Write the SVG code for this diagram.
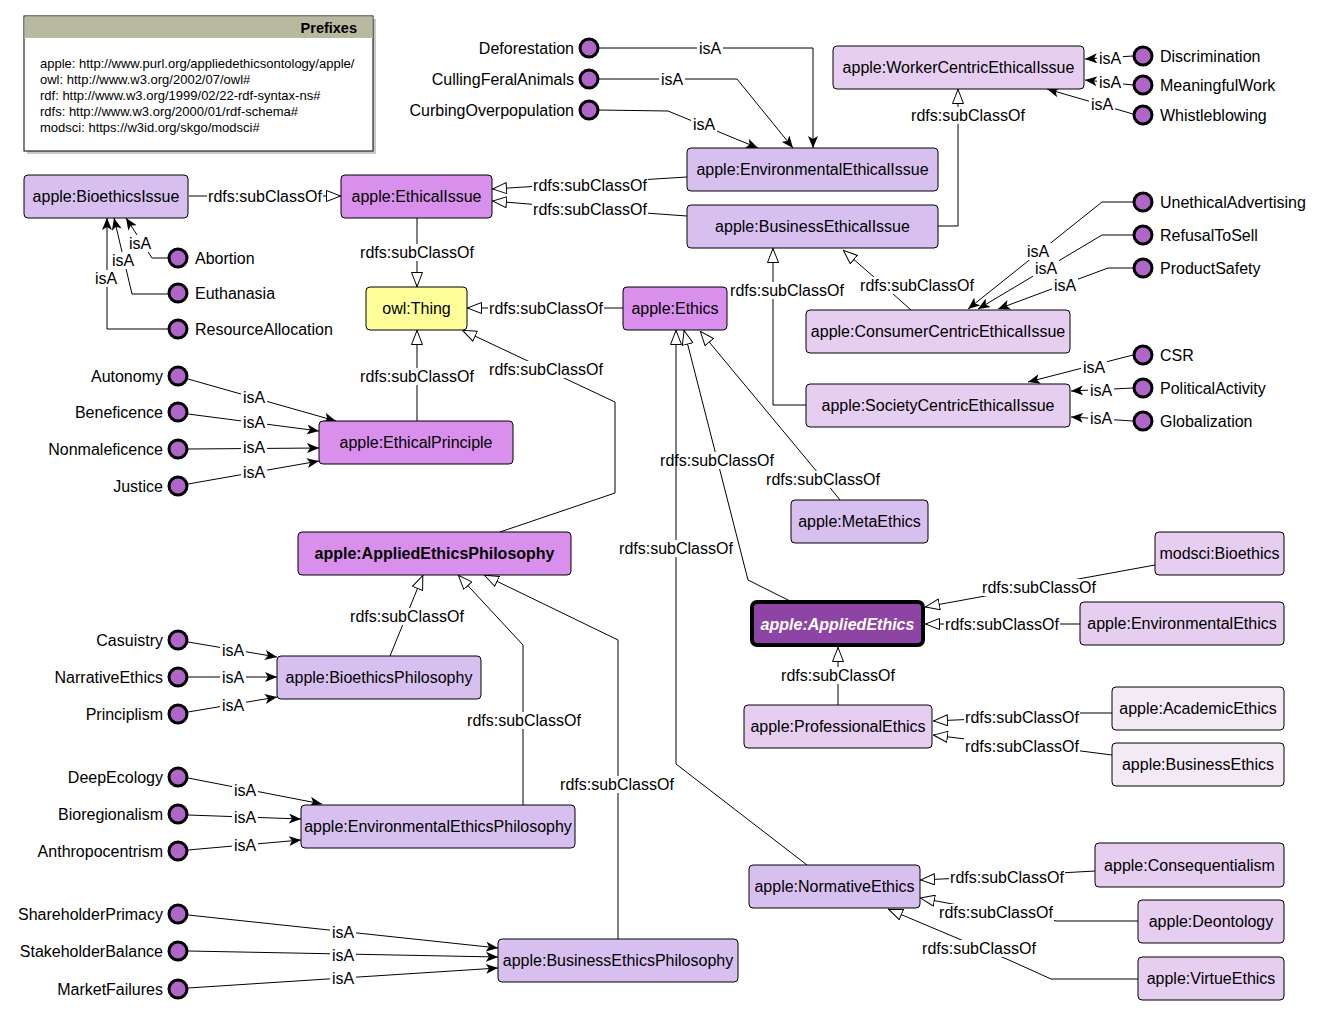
<svg xmlns="http://www.w3.org/2000/svg" xmlns:xlink="http://www.w3.org/1999/xlink" width="1323" height="1016" viewBox="0 0 1323 1016">
<style>
text{font-family:"Liberation Sans",Arial,sans-serif;fill:#000}
.e{fill:none;stroke:#000;stroke-width:1}
.s{marker-end:url(#tri)}
.i{marker-end:url(#arr)}
.lbl{font-size:16px;text-anchor:middle}
.n rect{stroke:#000;stroke-width:1}
.n text{font-size:16px;text-anchor:middle}
.lav{fill:#d7c0ef}
.pink{fill:#d98fec}
.light{fill:#e6cef0}
.vlight{fill:#f3eaf6}
.yel{fill:#ffff99}
.ind circle{fill:#b065c8;stroke:#000;stroke-width:3}
.ind text{font-size:16px}
.l{text-anchor:end}
.pre{font-size:13px}
</style>
<defs>
<marker id="tri" viewBox="0 0 15 12" refX="15" refY="6" markerWidth="15" markerHeight="12" markerUnits="userSpaceOnUse" orient="auto">
<path d="M0.5,0.5 L14.5,6 L0.5,11.5 Z" fill="#fff" stroke="#000" stroke-width="1"/>
</marker>
<marker id="arr" viewBox="0 0 12 10" refX="12" refY="5" markerWidth="12" markerHeight="10" markerUnits="userSpaceOnUse" orient="auto">
<path d="M0,0 L12,5 L0,10 L3,5 Z" fill="#000"/>
</marker>
<rect id="bs" x="-58" y="-14" width="116" height="17" fill="#fff"/>
<rect id="bi" x="-13" y="-14" width="26" height="17" fill="#fff"/>
</defs>
<rect width="1323" height="1016" fill="#fff"/>

<g id="prefixes">
<rect x="27" y="19" width="349" height="135" fill="#c8c8c8"/>
<rect x="24" y="16" width="349" height="135" fill="#fff" stroke="#000"/>
<rect x="24.5" y="16.5" width="348" height="21" fill="#b9b9a0"/>
<line x1="24" y1="37.5" x2="373" y2="37.5" stroke="#b9b9a0"/>
<text x="357" y="33" font-size="14.5" font-weight="bold" text-anchor="end">Prefixes</text>
<text class="pre" x="40" y="68">apple: http://www.purl.org/appliedethicsontology/apple/</text>
<text class="pre" x="40" y="84">owl: http://www.w3.org/2002/07/owl#</text>
<text class="pre" x="40" y="100">rdf: http://www.w3.org/1999/02/22-rdf-syntax-ns#</text>
<text class="pre" x="40" y="116">rdfs: http://www.w3.org/2000/01/rdf-schema#</text>
<text class="pre" x="40" y="132">modsci: https://w3id.org/skgo/modsci#</text>
</g>

<g id="connectors">
<!-- subClassOf -->
<path class="e s" d="M189,196 L341,196"/><use xlink:href="#bs" x="265" y="202"/><text class="lbl" x="265" y="202">rdfs:subClassOf</text>
<path class="e s" d="M687,177 L590,183 L492,189"/><use xlink:href="#bs" x="590" y="191"/><text class="lbl" x="590" y="191">rdfs:subClassOf</text>
<path class="e s" d="M687,216 L590,209 L492,201"/><use xlink:href="#bs" x="590" y="215"/><text class="lbl" x="590" y="215">rdfs:subClassOf</text>
<path class="e s" d="M417,218 L417,287"/><use xlink:href="#bs" x="417" y="258"/><text class="lbl" x="417" y="258">rdfs:subClassOf</text>
<path class="e s" d="M623,308 L467,308"/><use xlink:href="#bs" x="546" y="314"/><text class="lbl" x="546" y="314">rdfs:subClassOf</text>
<path class="e s" d="M417,421 L417,330"/><use xlink:href="#bs" x="417" y="382"/><text class="lbl" x="417" y="382">rdfs:subClassOf</text>
<path class="e s" d="M500,532 L615,493 L615,402 L462,330"/><use xlink:href="#bs" x="546" y="375"/><text class="lbl" x="546" y="375">rdfs:subClassOf</text>
<path class="e s" d="M938,226 L958,226 L958,89"/><use xlink:href="#bs" x="968" y="121"/><text class="lbl" x="968" y="121">rdfs:subClassOf</text>
<path class="e s" d="M911,310 L883,285 L843,250"/><use xlink:href="#bs" x="917" y="291"/><text class="lbl" x="917" y="291">rdfs:subClassOf</text>
<path class="e s" d="M806,405 L773,405 L773,248"/><use xlink:href="#bs" x="787" y="296"/><text class="lbl" x="787" y="296">rdfs:subClassOf</text>
<path class="e s" d="M840,500 L823,479 L700,331"/><use xlink:href="#bs" x="823" y="485"/><text class="lbl" x="823" y="485">rdfs:subClassOf</text>
<path class="e s" d="M790,601 L748,580 L684,330"/><use xlink:href="#bs" x="717" y="466"/><text class="lbl" x="717" y="466">rdfs:subClassOf</text>
<path class="e s" d="M807,865 L676,764 L676,330"/><use xlink:href="#bs" x="676" y="554"/><text class="lbl" x="676" y="554">rdfs:subClassOf</text>
<path class="e s" d="M390,656 L423,575"/><use xlink:href="#bs" x="407" y="622"/><text class="lbl" x="407" y="622">rdfs:subClassOf</text>
<path class="e s" d="M523,805 L523,645 L458,575"/><use xlink:href="#bs" x="524" y="726"/><text class="lbl" x="524" y="726">rdfs:subClassOf</text>
<path class="e s" d="M618,939 L618,640 L484,575"/><use xlink:href="#bs" x="617" y="790"/><text class="lbl" x="617" y="790">rdfs:subClassOf</text>
<path class="e s" d="M1155,565 L925,607"/><use xlink:href="#bs" x="1039" y="593"/><text class="lbl" x="1039" y="593">rdfs:subClassOf</text>
<path class="e s" d="M1080,624 L925,624"/><use xlink:href="#bs" x="1002" y="630"/><text class="lbl" x="1002" y="630">rdfs:subClassOf</text>
<path class="e s" d="M838,705 L838,647"/><use xlink:href="#bs" x="838" y="681"/><text class="lbl" x="838" y="681">rdfs:subClassOf</text>
<path class="e s" d="M1112,713 L1079,713 L1022,717 L933,721"/><use xlink:href="#bs" x="1022" y="723"/><text class="lbl" x="1022" y="723">rdfs:subClassOf</text>
<path class="e s" d="M1112,755 L1081,751 L1022,746 L933,735"/><use xlink:href="#bs" x="1022" y="752"/><text class="lbl" x="1022" y="752">rdfs:subClassOf</text>
<path class="e s" d="M1095,871 L1007,876 L920,880"/><use xlink:href="#bs" x="1007" y="883"/><text class="lbl" x="1007" y="883">rdfs:subClassOf</text>
<path class="e s" d="M1138,921 L1057,921 L996,912 L920,898"/><use xlink:href="#bs" x="996" y="918"/><text class="lbl" x="996" y="918">rdfs:subClassOf</text>
<path class="e s" d="M1138,979 L1051,979 L1009,960 L952,936 L888,909"/><use xlink:href="#bs" x="979" y="954"/><text class="lbl" x="979" y="954">rdfs:subClassOf</text>
<!-- isA -->
<path class="e i" d="M599,48 L813,48 L813,148"/><use xlink:href="#bi" x="710" y="54"/><text class="lbl" x="710" y="54">isA</text>
<path class="e i" d="M599,79 L737,79 L793,148"/><use xlink:href="#bi" x="672" y="85"/><text class="lbl" x="672" y="85">isA</text>
<path class="e i" d="M599,110 L668,111 L758,148"/><use xlink:href="#bi" x="704" y="130"/><text class="lbl" x="704" y="130">isA</text>
<path class="e i" d="M1133,56 L1085,59"/><use xlink:href="#bi" x="1110" y="64"/><text class="lbl" x="1110" y="64">isA</text>
<path class="e i" d="M1133,85 L1085,80"/><use xlink:href="#bi" x="1110" y="88"/><text class="lbl" x="1110" y="88">isA</text>
<path class="e i" d="M1133,114 L1047,89"/><use xlink:href="#bi" x="1102" y="110"/><text class="lbl" x="1102" y="110">isA</text>
<path class="e i" d="M1133,202 L1102,202 L968,309"/><use xlink:href="#bi" x="1038" y="257"/><text class="lbl" x="1038" y="257">isA</text>
<path class="e i" d="M1133,235 L1102,235 L978,309"/><use xlink:href="#bi" x="1046" y="274"/><text class="lbl" x="1046" y="274">isA</text>
<path class="e i" d="M1133,268 L1108,268 L998,309"/><use xlink:href="#bi" x="1065" y="291"/><text class="lbl" x="1065" y="291">isA</text>
<path class="e i" d="M1133,355 L1028,382"/><use xlink:href="#bi" x="1094" y="373"/><text class="lbl" x="1094" y="373">isA</text>
<path class="e i" d="M1133,388 L1071,391"/><use xlink:href="#bi" x="1101" y="396"/><text class="lbl" x="1101" y="396">isA</text>
<path class="e i" d="M1133,421 L1071,417"/><use xlink:href="#bi" x="1101" y="424"/><text class="lbl" x="1101" y="424">isA</text>
<path class="e i" d="M168,258 L152,258 L126,218"/><use xlink:href="#bi" x="140" y="249"/><text class="lbl" x="140" y="249">isA</text>
<path class="e i" d="M168,294 L132,294 L114,218"/><use xlink:href="#bi" x="123" y="266"/><text class="lbl" x="123" y="266">isA</text>
<path class="e i" d="M168,329 L107,329 L107,218"/><use xlink:href="#bi" x="106" y="284"/><text class="lbl" x="106" y="284">isA</text>
<path class="e i" d="M188,379 L336,421"/><use xlink:href="#bi" x="254" y="403"/><text class="lbl" x="254" y="403">isA</text>
<path class="e i" d="M188,414 L319,431"/><use xlink:href="#bi" x="254" y="428"/><text class="lbl" x="254" y="428">isA</text>
<path class="e i" d="M188,449 L319,448"/><use xlink:href="#bi" x="254" y="453"/><text class="lbl" x="254" y="453">isA</text>
<path class="e i" d="M188,484 L319,461"/><use xlink:href="#bi" x="254" y="478"/><text class="lbl" x="254" y="478">isA</text>
<path class="e i" d="M188,642 L277,657"/><use xlink:href="#bi" x="233" y="656"/><text class="lbl" x="233" y="656">isA</text>
<path class="e i" d="M188,677 L277,677"/><use xlink:href="#bi" x="233" y="683"/><text class="lbl" x="233" y="683">isA</text>
<path class="e i" d="M188,712 L277,697"/><use xlink:href="#bi" x="233" y="711"/><text class="lbl" x="233" y="711">isA</text>
<path class="e i" d="M188,778 L322,804"/><use xlink:href="#bi" x="245" y="796"/><text class="lbl" x="245" y="796">isA</text>
<path class="e i" d="M188,815 L301,819"/><use xlink:href="#bi" x="245" y="823"/><text class="lbl" x="245" y="823">isA</text>
<path class="e i" d="M188,850 L301,840"/><use xlink:href="#bi" x="245" y="851"/><text class="lbl" x="245" y="851">isA</text>
<path class="e i" d="M188,915 L498,948"/><use xlink:href="#bi" x="343" y="938"/><text class="lbl" x="343" y="938">isA</text>
<path class="e i" d="M188,951 L498,957"/><use xlink:href="#bi" x="343" y="961"/><text class="lbl" x="343" y="961">isA</text>
<path class="e i" d="M188,988 L498,968"/><use xlink:href="#bi" x="343" y="984"/><text class="lbl" x="343" y="984">isA</text>
</g>

<g id="classes">
<g id="n-bioethicsissue" class="n"><rect class="lav" x="24" y="175" width="164" height="43" rx="4"/><text x="106" y="202">apple:BioethicsIssue</text></g>
<g id="n-ethicalissue" class="n"><rect class="pink" x="341" y="175" width="151" height="43" rx="4"/><text x="416.5" y="202">apple:EthicalIssue</text></g>
<g id="n-thing" class="n"><rect class="yel" x="366" y="287" width="101" height="43" rx="4"/><text x="416.5" y="314">owl:Thing</text></g>
<g id="n-ethics" class="n"><rect class="pink" x="623" y="287" width="104" height="43" rx="4"/><text x="675" y="314">apple:Ethics</text></g>
<g id="n-envethicalissue" class="n"><rect class="lav" x="687" y="148" width="251" height="43" rx="4"/><text x="812.5" y="175">apple:EnvironmentalEthicalIssue</text></g>
<g id="n-busethicalissue" class="n"><rect class="lav" x="687" y="205" width="251" height="43" rx="4"/><text x="812.5" y="232">apple:BusinessEthicalIssue</text></g>
<g id="n-worker" class="n"><rect class="light" x="833" y="46" width="251" height="43" rx="4"/><text x="958.5" y="73">apple:WorkerCentricEthicalIssue</text></g>
<g id="n-consumer" class="n"><rect class="light" x="806" y="310" width="264" height="43" rx="4"/><text x="938" y="337">apple:ConsumerCentricEthicalIssue</text></g>
<g id="n-society" class="n"><rect class="light" x="806" y="384" width="264" height="43" rx="4"/><text x="938" y="411">apple:SocietyCentricEthicalIssue</text></g>
<g id="n-ethicalprinciple" class="n"><rect class="pink" x="319" y="421" width="194" height="43" rx="4"/><text x="416" y="448">apple:EthicalPrinciple</text></g>
<g id="n-metaethics" class="n"><rect class="lav" x="791" y="500" width="137" height="43" rx="4"/><text x="859.5" y="527">apple:MetaEthics</text></g>
<g id="n-aephil" class="n"><rect class="pink" x="298" y="532" width="273" height="43" rx="4"/><text x="434.5" y="559" font-weight="bold">apple:AppliedEthicsPhilosophy</text></g>
<g id="n-biophil" class="n"><rect class="lav" x="277" y="656" width="204" height="43" rx="4"/><text x="379" y="683">apple:BioethicsPhilosophy</text></g>
<g id="n-envphil" class="n"><rect class="lav" x="301" y="805" width="274" height="43" rx="4"/><text x="438" y="832">apple:EnvironmentalEthicsPhilosophy</text></g>
<g id="n-busphil" class="n"><rect class="lav" x="498" y="939" width="240" height="43" rx="4"/><text x="618" y="966">apple:BusinessEthicsPhilosophy</text></g>
<g id="n-appliedethics" class="n"><rect x="752" y="602" width="171" height="43" rx="5" fill="#8e44a4" style="stroke-width:4"/><text x="837.5" y="629.5" font-weight="bold" font-style="italic" style="fill:#fff">apple:AppliedEthics</text></g>
<g id="n-modsci" class="n"><rect class="light" x="1155" y="532" width="129" height="43" rx="4"/><text x="1219.5" y="559">modsci:Bioethics</text></g>
<g id="n-envethics" class="n"><rect class="light" x="1080" y="602" width="204" height="43" rx="4"/><text x="1182" y="629">apple:EnvironmentalEthics</text></g>
<g id="n-profethics" class="n"><rect class="light" x="744" y="705" width="188" height="43" rx="4"/><text x="838" y="732">apple:ProfessionalEthics</text></g>
<g id="n-academic" class="n"><rect class="vlight" x="1112" y="687" width="172" height="43" rx="4"/><text x="1198" y="714">apple:AcademicEthics</text></g>
<g id="n-busethics" class="n"><rect class="vlight" x="1112" y="743" width="172" height="43" rx="4"/><text x="1198" y="770">apple:BusinessEthics</text></g>
<g id="n-normative" class="n"><rect class="lav" x="749" y="865" width="171" height="43" rx="4"/><text x="834.5" y="892">apple:NormativeEthics</text></g>
<g id="n-conseq" class="n"><rect class="light" x="1095" y="843" width="189" height="44" rx="4"/><text x="1189.5" y="871">apple:Consequentialism</text></g>
<g id="n-deont" class="n"><rect class="light" x="1138" y="900" width="146" height="43" rx="4"/><text x="1211" y="927">apple:Deontology</text></g>
<g id="n-virtue" class="n"><rect class="light" x="1138" y="957" width="146" height="43" rx="4"/><text x="1211" y="984">apple:VirtueEthics</text></g>
</g>

<g id="individuals">
<g id="i-deforestation" class="ind"><circle cx="589" cy="48" r="9"/><text class="l" x="574" y="54">Deforestation</text></g>
<g id="i-culling" class="ind"><circle cx="589" cy="79" r="9"/><text class="l" x="574" y="85">CullingFeralAnimals</text></g>
<g id="i-curbing" class="ind"><circle cx="589" cy="110" r="9"/><text class="l" x="574" y="116">CurbingOverpopulation</text></g>
<g id="i-discrimination" class="ind"><circle cx="1143" cy="56" r="9"/><text x="1160" y="62">Discrimination</text></g>
<g id="i-meaningful" class="ind"><circle cx="1143" cy="85" r="9"/><text x="1160" y="91">MeaningfulWork</text></g>
<g id="i-whistle" class="ind"><circle cx="1143" cy="115" r="9"/><text x="1160" y="121">Whistleblowing</text></g>
<g id="i-unethical" class="ind"><circle cx="1143" cy="202" r="9"/><text x="1160" y="208">UnethicalAdvertising</text></g>
<g id="i-refusal" class="ind"><circle cx="1143" cy="235" r="9"/><text x="1160" y="241">RefusalToSell</text></g>
<g id="i-product" class="ind"><circle cx="1143" cy="268" r="9"/><text x="1160" y="274">ProductSafety</text></g>
<g id="i-csr" class="ind"><circle cx="1143" cy="355" r="9"/><text x="1160" y="361">CSR</text></g>
<g id="i-political" class="ind"><circle cx="1143" cy="388" r="9"/><text x="1160" y="394">PoliticalActivity</text></g>
<g id="i-globalization" class="ind"><circle cx="1143" cy="421" r="9"/><text x="1160" y="427">Globalization</text></g>
<g id="i-abortion" class="ind"><circle cx="178" cy="258" r="9"/><text x="195" y="264">Abortion</text></g>
<g id="i-euthanasia" class="ind"><circle cx="178" cy="293" r="9"/><text x="195" y="299">Euthanasia</text></g>
<g id="i-resource" class="ind"><circle cx="178" cy="329" r="9"/><text x="195" y="335">ResourceAllocation</text></g>
<g id="i-autonomy" class="ind"><circle cx="178" cy="376" r="9"/><text class="l" x="163" y="382">Autonomy</text></g>
<g id="i-beneficence" class="ind"><circle cx="178" cy="412" r="9"/><text class="l" x="163" y="418">Beneficence</text></g>
<g id="i-nonmaleficence" class="ind"><circle cx="178" cy="449" r="9"/><text class="l" x="163" y="455">Nonmaleficence</text></g>
<g id="i-justice" class="ind"><circle cx="178" cy="486" r="9"/><text class="l" x="163" y="492">Justice</text></g>
<g id="i-casuistry" class="ind"><circle cx="178" cy="640" r="9"/><text class="l" x="163" y="646">Casuistry</text></g>
<g id="i-narrative" class="ind"><circle cx="178" cy="677" r="9"/><text class="l" x="163" y="683">NarrativeEthics</text></g>
<g id="i-principlism" class="ind"><circle cx="178" cy="714" r="9"/><text class="l" x="163" y="720">Principlism</text></g>
<g id="i-deepecology" class="ind"><circle cx="178" cy="777" r="9"/><text class="l" x="163" y="783">DeepEcology</text></g>
<g id="i-bioregionalism" class="ind"><circle cx="178" cy="814" r="9"/><text class="l" x="163" y="820">Bioregionalism</text></g>
<g id="i-anthropocentrism" class="ind"><circle cx="178" cy="851" r="9"/><text class="l" x="163" y="857">Anthropocentrism</text></g>
<g id="i-shareholder" class="ind"><circle cx="178" cy="914" r="9"/><text class="l" x="163" y="920">ShareholderPrimacy</text></g>
<g id="i-stakeholder" class="ind"><circle cx="178" cy="951" r="9"/><text class="l" x="163" y="957">StakeholderBalance</text></g>
<g id="i-marketfailures" class="ind"><circle cx="178" cy="989" r="9"/><text class="l" x="163" y="995">MarketFailures</text></g>
</g>
</svg>
